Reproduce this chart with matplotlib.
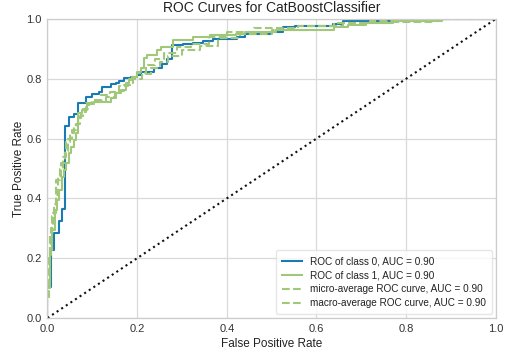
import matplotlib
matplotlib.use("Agg")
import matplotlib.pyplot as plt

# ---- data ----
fpr_class0 = [0, 0, 0.008, 0.0145, 0.026, 0.032, 0.038, 0.048, 0.059, 0.068, 0.085, 0.099,
              0.115, 0.122, 0.141, 0.152, 0.160, 0.171, 0.186, 0.200, 0.208, 0.215, 0.238,
              0.256, 0.266, 0.277, 0.302, 0.325, 0.347, 0.370, 0.422, 0.441, 0.497, 0.526,
              0.552, 0.637, 0.660, 0.765, 1.0]
tpr_class0 = [0, 0.104, 0.227, 0.284, 0.324, 0.365, 0.642, 0.672, 0.682, 0.719, 0.740, 0.749,
              0.755, 0.774, 0.783, 0.787, 0.794, 0.802, 0.807, 0.813, 0.822, 0.824, 0.835,
              0.848, 0.866, 0.913, 0.915, 0.919, 0.926, 0.933, 0.941, 0.950, 0.957, 0.972,
              0.978, 0.984, 0.992, 1.0, 1.0]

fpr_class1 = [0, 0, 0.005, 0.009, 0.017, 0.022, 0.026, 0.033, 0.037, 0.041, 0.048, 0.052,
              0.059, 0.063, 0.067, 0.077, 0.088, 0.104, 0.141, 0.152, 0.163, 0.175, 0.182,
              0.189, 0.200, 0.208, 0.215, 0.223, 0.245, 0.253, 0.281, 0.325, 0.363, 0.42,
              0.44, 0.51, 0.64, 0.67, 0.71, 0.77, 0.88, 1.0]
tpr_class1 = [0, 0.10, 0.227, 0.294, 0.361, 0.395, 0.428, 0.473, 0.495, 0.518, 0.552, 0.573,
              0.595, 0.619, 0.686, 0.696, 0.719, 0.723, 0.735, 0.752, 0.763, 0.785, 0.796,
              0.807, 0.824, 0.835, 0.869, 0.880, 0.896, 0.907, 0.930, 0.940, 0.946, 0.950,
              0.955, 0.963, 0.972, 0.980, 0.986, 0.992, 1.0, 1.0]

fpr_micro = [0, 0, 0.003, 0.006, 0.010, 0.014, 0.020, 0.028, 0.035, 0.042, 0.050, 0.060,
             0.068, 0.075, 0.085, 0.10, 0.12, 0.14, 0.16, 0.18, 0.20, 0.22, 0.24, 0.26,
             0.29, 0.32, 0.36, 0.40, 0.46, 0.56, 0.64, 0.72, 0.84, 1.0]
tpr_micro = [0, 0.06, 0.14, 0.28, 0.34, 0.38, 0.46, 0.50, 0.54, 0.59, 0.62, 0.645,
             0.67, 0.69, 0.72, 0.73, 0.745, 0.757, 0.775, 0.80, 0.82, 0.845, 0.865, 0.885,
             0.905, 0.915, 0.94, 0.955, 0.97, 0.978, 0.985, 0.993, 1.0, 1.0]

fpr_macro = [0, 0, 0.004, 0.008, 0.012, 0.018, 0.024, 0.030, 0.038, 0.046, 0.055, 0.064,
             0.072, 0.080, 0.092, 0.11, 0.13, 0.15, 0.17, 0.19, 0.21, 0.23, 0.25, 0.27,
             0.30, 0.34, 0.38, 0.43, 0.50, 0.58, 0.66, 0.76, 0.86, 1.0]
tpr_macro = [0, 0.12, 0.20, 0.30, 0.35, 0.41, 0.47, 0.52, 0.56, 0.60, 0.63, 0.65,
             0.675, 0.70, 0.715, 0.725, 0.74, 0.76, 0.78, 0.80, 0.815, 0.835, 0.855, 0.875,
             0.895, 0.91, 0.935, 0.95, 0.962, 0.975, 0.985, 0.99, 1.0, 1.0]

labels = ["ROC of class 0, AUC = 0.90", "ROC of class 1, AUC = 0.90",
          "micro-average ROC curve, AUC = 0.90", "macro-average ROC curve, AUC = 0.90"]
ticks = [0.0, 0.2, 0.4, 0.6, 0.8, 1.0]

plt.rcParams['font.family'] = ['Liberation Sans', 'DejaVu Sans']

BLUE = "#1a7ab3"
GREEN = "#a1c879"

fig = plt.figure(figsize=(5.26, 3.54), dpi=100)
ax = fig.add_axes([0.0903, 0.1017, 0.852, 0.8446])

ax.plot(fpr_class0, tpr_class0, drawstyle='steps-post', color=BLUE, lw=1.5, label=labels[0])
ax.plot(fpr_class1, tpr_class1, drawstyle='steps-post', color=GREEN, lw=1.5, label=labels[1])
ax.plot(fpr_micro, tpr_micro, drawstyle='steps-post', color=GREEN, lw=1.5, ls='--', label=labels[2])
ax.plot(fpr_macro, tpr_macro, drawstyle='steps-post', color=GREEN, lw=1.5, ls='--', label=labels[3])
ax.plot([0, 1], [0, 1], ls=':', color='#111111', lw=1.5)

ax.set_xlim(0, 1)
ax.set_ylim(0, 1)
ax.set_xticks(ticks)
ax.set_yticks(ticks)
ax.tick_params(length=0, labelsize=8, colors='#333333', pad=4)
ax.grid(True, color='#d9d9d9', lw=0.9)
ax.set_axisbelow(True)
for s in ax.spines.values():
    s.set_color('#cccccc')
    s.set_linewidth(0.9)

ax.set_title("ROC Curves for CatBoostClassifier", fontsize=10, color='#222222', pad=5)
ax.set_xlabel("False Positive Rate", fontsize=8.5, color='#222222', labelpad=3)
ax.set_ylabel("True Positive Rate", fontsize=8.5, color='#222222', labelpad=1)

leg = ax.legend(loc='lower right', fontsize=7.2, frameon=True, framealpha=0.8,
                edgecolor='#e0e0e0', fancybox=True, borderpad=0.6, labelspacing=0.4,
                borderaxespad=0.35)
for t in leg.get_texts():
    t.set_color('#222222')

fig.savefig("out.png", dpi=100)
